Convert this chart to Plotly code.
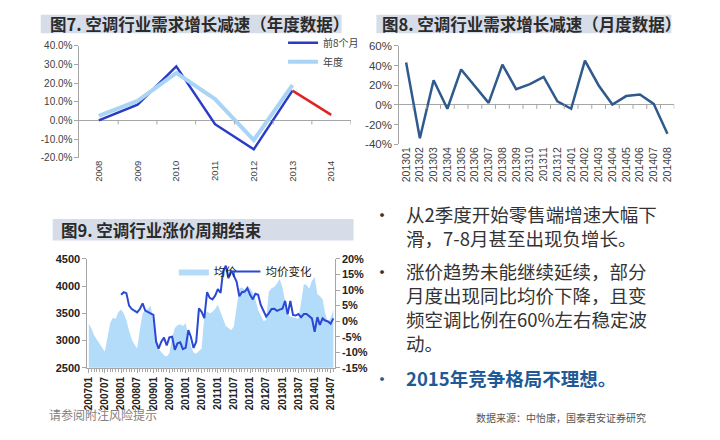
import plotly.graph_objects as go

W, H = 720, 440

# ---------------- data ----------------
# Chart 7 (annual)
years = ['2008', '2009', '2010', '2011', '2012', '2013', '2014']
first8 = [0.0, 8.5, 29.0, -2.0, -15.5, 16.0, 3.0]
annual = [2.5, 10.5, 25.5, 11.5, -10.5, 19.0]
y7_ticks = [-20, -10, 0, 10, 20, 30, 40]

# Chart 8 (monthly)
months8 = ['201301', '201302', '201303', '201304', '201305', '201306', '201307',
           '201308', '201309', '201310', '201311', '201312', '201401', '201402',
           '201403', '201404', '201405', '201406', '201407', '201408']
growth8 = [43, -34, 25, -4, 36, 19, 2, 41, 16, 21, 28.5, 3.6, -4, 45, 19.7,
           0.3, 8.9, 10.5, 1, -29.5]
y8_ticks = [-40, -20, 0, 20, 40, 60]

# Chart 9 (average price and its change), monthly 200701..201408
price = [3310, 3220, 3100, 3030, 2950, 2870, 2800, 3080, 3330, 3420, 3400, 3520,
         3570, 3500, 3380, 3180, 3020, 2930, 2860, 3200, 3500, 3560, 3580, 3640,
         3350, 3030, 2850, 2790, 2730, 2710, 2770, 3050, 3230, 3280, 3300, 3270,
         3320, 3110, 2900, 2780, 2760, 2810, 2850, 3450, 3540, 3500, 3530, 3580,
         3660, 3520, 3380, 3270, 3230, 3190, 3260, 3600, 3950, 3980, 3930, 4010,
         3960, 3880, 3760, 3560, 3450, 3360, 3380, 3900, 3960, 3990, 4050, 4130,
         3980, 3720, 3480, 3440, 3430, 3420, 3400, 3700, 4040, 4020, 3950, 4100,
         4170, 3850, 3820, 3760, 3500, 3330, 3420, 3560]
price_chg_start = '200801'
price_chg = [8.5, 9.3, 9.0, 5.0, 3.9, 3.2, 2.8, 3.9, 5.7, 3.4, 3.0, 2.6,
             2.0, -6.6, -8.8, -6.6, -5.3, -7.8, -5.2, -5.0, -9.2, -7.1, -6.8, -9.0,
             -8.6, -2.9, -5.0, -8.6, -6.6, 4.1, 3.0, 1.0, 9.3, 7.5, 7.0, 8.2,
             10.3, 9.1, 16.0, 17.8, 13.8, 16.3, 14.3, 12.7, 8.0, 9.3, 9.5, 10.6,
             8.5, 7.0, 8.8, 8.5, 5.2, 3.5, 1.5, 2.6, 3.9, 4.0, 3.3, 3.7,
             4.0, 6.5, 2.2, 6.5, 2.0, 1.8, 2.3, 1.3, 2.3, 2.3, 1.5, 0.9,
             -3.4, 1.3, -1.2, 0.9, 0.2, -0.1, -0.8, 0.9]
y9_left_ticks = [2500, 3000, 3500, 4000, 4500]
y9_right_ticks = [-15, -10, -5, 0, 5, 10, 15, 20]

# month labels for chart 9
months9 = [f'{y}{m:02d}' for y in range(2007, 2015) for m in range(1, 13)]
months9 = months9[:len(price)]
dates9 = [f'{s[:4]}-{s[4:]}-01' for s in months9]
i0 = months9.index(price_chg_start)
dates_chg = dates9[i0:i0 + len(price_chg)]

# text block
para1 = ['从2季度开始零售端增速大幅下', '滑，7-8月甚至出现负增长。']
para2 = ['涨价趋势未能继续延续，部分', '月度出现同比均价下降，且变',
         '频空调比例在60%左右稳定波', '动。']
para3 = ['2015年竞争格局不理想。']

# ---------------- styling ----------------
AX = '#a6a6a6'
TXT = '#404040'
LAT = 'Liberation Sans, Arial, sans-serif'
CJK = 'Noto Sans CJK SC, sans-serif'


def px_x(x):
    return x / W


def px_y(y):
    return 1 - y / H


fig = go.Figure()

# Chart 7
x7 = list(range(len(years)))
nb = len(annual)
fig.add_trace(go.Scatter(x=x7[:nb], y=first8[:nb], mode='lines', name='前8个月',
                         line=dict(color='#2b3cc4', width=2.5),
                         xaxis='x', yaxis='y', legend='legend'))
fig.add_trace(go.Scatter(x=x7[:nb], y=annual, mode='lines', name='年度',
                         line=dict(color='#a9d4f5', width=4),
                         xaxis='x', yaxis='y', legend='legend'))
fig.add_trace(go.Scatter(x=x7[nb - 1:], y=first8[nb - 1:], mode='lines',
                         showlegend=False, line=dict(color='#e02424', width=2.5),
                         xaxis='x', yaxis='y'))

# Chart 8
x8 = list(range(len(months8)))
fig.add_trace(go.Scatter(x=x8, y=growth8, mode='lines', showlegend=False,
                         line=dict(color='#2f5a8d', width=2.5),
                         xaxis='x2', yaxis='y2'))

# Chart 9
fig.add_trace(go.Scatter(x=dates9, y=price, mode='lines', name='均价',
                         fill='tozeroy', fillcolor='#b3dbfa',
                         line=dict(color='#b3dbfa', width=0),
                         xaxis='x3', yaxis='y3', legend='legend2'))
fig.add_trace(go.Scatter(x=dates_chg, y=price_chg, mode='lines', name='均价变化',
                         line=dict(color='#2a48d4', width=2),
                         xaxis='x3', yaxis='y4', legend='legend3'))

base_axis = dict(showgrid=False, linecolor=AX, tickcolor=AX, fixedrange=True)
leg9_font = dict(family=CJK, size=11.5, color='#222')

fig.update_layout(
    width=W, height=H, margin=dict(l=0, r=0, t=0, b=0),
    paper_bgcolor='white', plot_bgcolor='white', showlegend=True,
    xaxis=dict(base_axis, domain=[px_x(76), px_x(349)], range=[-0.5, len(years) - 0.5],
               tickmode='array', tickvals=x7, ticktext=years, tickangle=-90,
               showline=False, zeroline=False, ticks='',
               tickfont=dict(family=LAT, size=9.5, color=TXT), anchor='y'),
    yaxis=dict(base_axis, domain=[px_y(156), px_y(41)], range=[-20, 40],
               tickmode='array', tickvals=y7_ticks,
               ticktext=[f'{v:.1f}%' for v in y7_ticks],
               showline=True, ticks='outside', ticklen=4,
               zeroline=True, zerolinecolor=AX, zerolinewidth=1,
               tickfont=dict(family=LAT, size=10, color=TXT), anchor='x'),
    xaxis2=dict(base_axis, domain=[px_x(398), px_x(675)], range=[-0.5, len(months8) - 0.5],
                tickmode='array', tickvals=x8, ticktext=months8, tickangle=-90,
                showline=False, zeroline=False, ticks='',
                tickfont=dict(family=LAT, size=10.5, color=TXT), anchor='y2'),
    yaxis2=dict(base_axis, domain=[px_y(142), px_y(41)], range=[-40, 60],
                tickmode='array', tickvals=y8_ticks,
                ticktext=[f'{v}%' for v in y8_ticks],
                showline=True, ticks='outside', ticklen=4,
                zeroline=True, zerolinecolor=AX, zerolinewidth=1,
                tickfont=dict(family=LAT, size=11.5, color=TXT), anchor='x2'),
    xaxis3=dict(base_axis, domain=[px_x(84), px_x(333)], type='date',
                range=['2006-12-16', '2014-08-16'],
                tick0=dates9[0], dtick='M6', tickformat='%Y%m', tickangle=-90,
                showline=True, ticks='outside', ticklen=4, zeroline=False,
                minor=dict(dtick='M1', tick0=dates9[0], ticks='outside', ticklen=3, tickcolor=AX),
                tickfont=dict(family=LAT, size=10, color='#222', weight='bold'), anchor='y3'),
    yaxis3=dict(base_axis, domain=[px_y(372), px_y(260)], range=[2500, 4500],
                tickmode='array', tickvals=y9_left_ticks,
                ticktext=[str(v) for v in y9_left_ticks],
                showline=True, ticks='outside', ticklen=4, zeroline=False,
                tickfont=dict(family=LAT, size=11, color='#222', weight='bold'), anchor='x3'),
    yaxis4=dict(base_axis, domain=[px_y(372), px_y(260)], range=[-15, 20],
                overlaying='y3', side='right', anchor='x3',
                tickmode='array', tickvals=y9_right_ticks,
                ticktext=[f'{v}%' for v in y9_right_ticks],
                showline=True, ticks='outside', ticklen=4, zeroline=False,
                tickfont=dict(family=LAT, size=11, color='#222', weight='bold')),
    legend=dict(x=px_x(281), y=px_y(23), xanchor='left', yanchor='top',
                bgcolor='rgba(0,0,0,0)', tracegroupgap=0,
                font=dict(family=CJK, size=10, color=TXT)),
    legend2=dict(x=px_x(171), y=px_y(258), xanchor='left', yanchor='top',
                 orientation='h', bgcolor='rgba(0,0,0,0)', font=leg9_font),
    legend3=dict(x=px_x(223), y=px_y(258), xanchor='left', yanchor='top',
                 orientation='h', bgcolor='rgba(0,0,0,0)', font=leg9_font),
)

# zero-line tick marks for charts 7 and 8 (at category boundaries)
shapes = []
for i in range(len(years)):
    shapes.append(dict(type='line', xref='x', yref='y', x0=i + 0.5, x1=i + 0.5,
                       ysizemode='pixel', yanchor=0, y0=0, y1=-4,
                       line=dict(color=AX, width=1)))
for i in range(len(months8)):
    shapes.append(dict(type='line', xref='x2', yref='y2', x0=i + 0.5, x1=i + 0.5,
                       ysizemode='pixel', yanchor=0, y0=0, y1=-4,
                       line=dict(color=AX, width=1)))

# title banners
banners = [
    (37, 340, 9, 28, 44, '图7. 空调行业需求增长减速（年度数据）'),
    (375, 672, 9, 28, 379, '图8. 空调行业需求增长减速（月度数据）'),
    (49, 352, 219, 241, 55, '图9. 空调行业涨价周期结束'),
]
annotations = []
for x0, x1, y0, y1, tx, text in banners:
    shapes.append(dict(type='rect', xref='paper', yref='paper', layer='below',
                       x0=px_x(x0), x1=px_x(x1), y0=px_y(y1), y1=px_y(y0),
                       fillcolor='#d6dde9', line=dict(width=0)))
    annotations.append(dict(xref='paper', yref='paper', x=px_x(tx), y=px_y((y0 + y1) / 2),
                            xanchor='left', yanchor='middle', showarrow=False,
                            text=f'<b>{text}</b>',
                            font=dict(family=CJK, size=16.5, color='#2b2b2b')))

# bullet text block: one multi-line text per paragraph
FS = 18.5
LH = FS * 1.3
blocks = [(para1, 226.0, '#333333', False), (para2, 309.0, '#333333', False),
          (para3, 382.5, '#1f5a96', True)]
for lines, ycen, color, bold in blocks:
    yfirst = ycen - (len(lines) - 1) * LH / 2
    annotations.append(dict(xref='paper', yref='paper', x=px_x(381), y=px_y(yfirst),
                            xanchor='center', yanchor='middle', showarrow=False,
                            text='•', font=dict(family=CJK, size=18, color=color)))
    body = '<br>'.join(lines)
    if bold:
        body = f'<b>{body}</b>'
    annotations.append(dict(xref='paper', yref='paper', x=px_x(403), y=px_y(ycen),
                            xanchor='left', yanchor='middle', align='left',
                            showarrow=False, text=body,
                            font=dict(family=CJK, size=FS, color=color)))

annotations.append(dict(xref='paper', yref='paper', x=px_x(43), y=px_y(420),
                        xanchor='left', yanchor='middle', showarrow=False,
                        text='请参阅附注风险提示',
                        font=dict(family=CJK, size=12, color='#808080')))
annotations.append(dict(xref='paper', yref='paper', x=px_x(473), y=px_y(423),
                        xanchor='left', yanchor='middle', showarrow=False,
                        text='数据来源：中怡康，国泰君安证券研究',
                        font=dict(family=CJK, size=10, color='#555555')))

fig.update_layout(shapes=shapes, annotations=annotations)
fig.write_html('out.html')
